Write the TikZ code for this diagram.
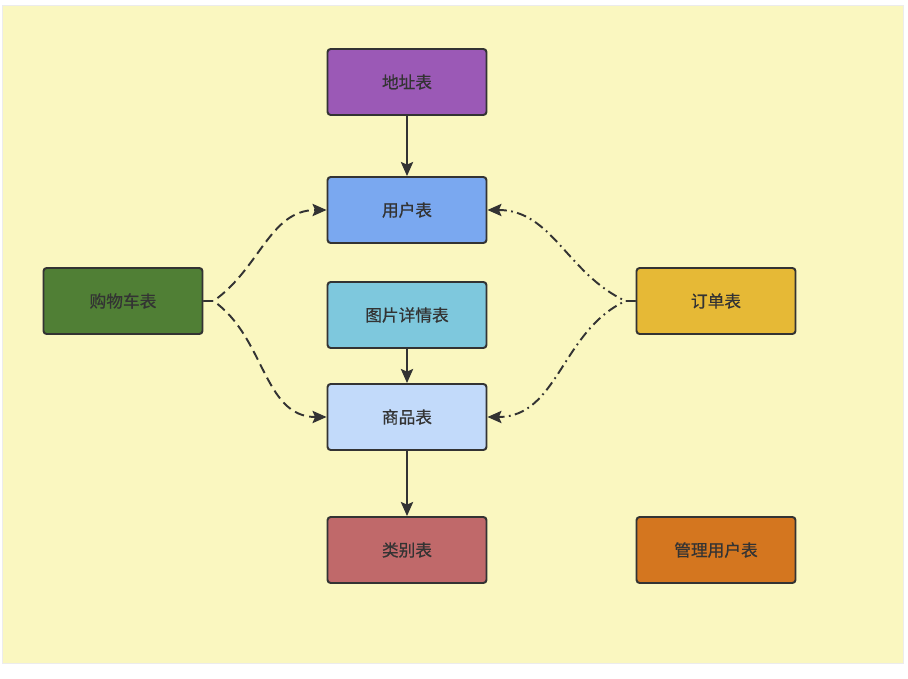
\documentclass[tikz,border=0pt]{standalone}
\usepackage{fontspec}
\newfontfamily\cjk[FakeBold=0.6]{Noto Sans CJK SC}
\usepackage{tikz}
\usetikzlibrary{arrows.meta}
\usetikzlibrary{positioning}

\definecolor{bgyellow}{RGB}{250,247,192}
\definecolor{edgegray}{RGB}{51,51,51}
\definecolor{addrpurple}{RGB}{155,89,182}
\definecolor{userblue}{RGB}{122,168,240}
\definecolor{piccyan}{RGB}{126,200,221}
\definecolor{goodsblue}{RGB}{194,218,250}
\definecolor{catred}{RGB}{192,105,106}
\definecolor{cartgreen}{RGB}{80,127,53}
\definecolor{orderyellow}{RGB}{230,185,54}
\definecolor{adminorange}{RGB}{212,118,31}

\begin{document}
\begin{tikzpicture}[line width=1.1pt,>={Stealth[length=8pt,width=7pt,inset=1.5pt]},
    table/.style={draw=edgegray, rounded corners=1.8pt, minimum width=3.18cm,
      minimum height=1.32cm, text=edgegray, font=\cjk\fontsize{9.5}{11}\selectfont},
    link/.style={draw=edgegray, ->},
    dashlink/.style={link, dash pattern=on 5.5pt off 3pt},
    dotlink/.style={link, dash pattern=on 5.5pt off 2.5pt on 1pt off 2.5pt}]
    \useasboundingbox (0,0) rectangle (18.16,13.56);
    \fill[bgyellow, draw=gray!15, line width=0.4pt] (0.04,0.30) rectangle (18.06,13.46);

    \node[table, fill=addrpurple] (addr) at (8.14,11.92) {地址表};
    \node[table, fill=userblue] (user) at (8.14,9.36) {用户表};
    \node[table, fill=piccyan] (pic) at (8.14,7.26) {图片详情表};
    \node[table, fill=goodsblue] (goods) at (8.14,5.22) {商品表};
    \node[table, fill=catred] (cat) at (8.14,2.56) {类别表};
    \node[table, fill=cartgreen] (cart) at (2.46,7.54) {购物车表};
    \node[table, fill=orderyellow] (order) at (14.32,7.54) {订单表};
    \node[table, fill=adminorange] (admin) at (14.32,2.56) {管理用户表};

    \draw[link] (addr) -- (user);
    \draw[link] (pic) -- (goods);
    \draw[link] (goods) -- (cat);

    \draw[dashlink] (cart.east) -- ++(0.2,0) to[out=35,in=180] (user.west);
    \draw[dashlink] (cart.east) -- ++(0.2,0) to[out=-35,in=180] (goods.west);
    \draw[dotlink] (order.west) -- ++(-0.2,0) to[out=155,in=0] (user.east);
    \draw[dotlink] (order.west) -- ++(-0.2,0) to[out=-155,in=0] (goods.east);
  \end{tikzpicture}
\end{document}
